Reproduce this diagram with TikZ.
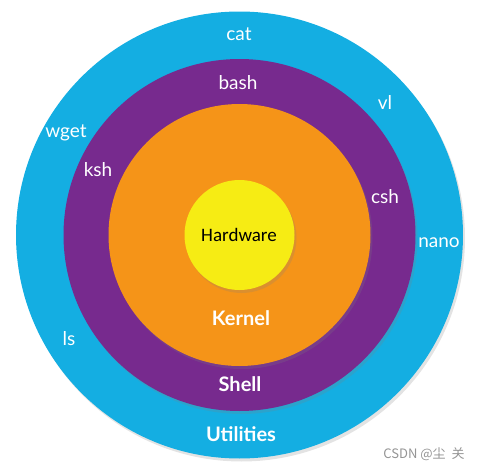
\documentclass[tikz,border=0pt]{standalone}
\usepackage{fontspec}
\setmainfont{Lato}
\newfontfamily\hwfont{Carlito}
\newfontfamily\cjkfont{Noto Sans CJK SC}
\usepackage{tikz}
\usetikzlibrary{shadows}

\begin{document}
\begin{tikzpicture}[x=1pt, y=-1pt,
    layer/.style={circle, inner sep=0pt,
        drop shadow={shadow xshift=2pt, shadow yshift=-3pt, opacity=0.22}},
    tool/.style={anchor=base, text=white, font=\fontsize{19}{19}\selectfont},
    ringname/.style={anchor=base, text=white, font=\fontsize{20}{20}\selectfont\bfseries}]

% ------------------------
% Colors
% ------------------------
\definecolor{colUtil}{RGB}{20,174,226}
\definecolor{colShell}{RGB}{119,42,142}
\definecolor{colKernel}{RGB}{245,148,24}
\definecolor{colHw}{RGB}{246,236,20}

% centre of all rings
\def\cx{239.5}
\def\cy{235}

\useasboundingbox (0,0) rectangle (483,471);

% ------------------------
% Rings, outside in
% ------------------------
\node[layer, fill=colUtil, minimum size=447pt] (utilities) at (\cx,\cy) {};
\node[layer, fill=colShell, minimum size=352pt] (shell) at (\cx,\cy) {};
\node[layer, fill=colKernel, minimum size=262pt] (kernel) at (\cx,\cy) {};
\node[layer, fill=colHw, minimum size=110pt] (hardware) at (\cx,\cy) {};

% ------------------------
% Labels
% ------------------------
\node[anchor=base, font=\hwfont\fontsize{19}{19}\selectfont] (hwname) at (239,241) {Hardware};
\node[ringname] (kername) at (241,325) {Kernel};
\node[ringname] (shellname) at (240,391) {Shell};
\node[ringname] (utilname) at (241,441) {Utilities};

% shells
\node[tool] (bash) at (238,89) {bash};
\node[tool] (ksh) at (98,176) {ksh};
\node[tool] (csh) at (385,203) {csh};

% utilities
\node[tool] (cat) at (239,40) {cat};
\node[tool] (vl) at (385,109) {vl};
\node[tool] (wget) at (66,137) {wget};
\node[tool] (nano) at (439,247) {nano};
\node[tool] (ls) at (69,345) {ls};

% watermark
\node[anchor=base, text=black!42, font=\cjkfont\fontsize{13}{13}\selectfont] (mark) at (424,458) {CSDN @尘\ \ 关};

\end{tikzpicture}
\end{document}
